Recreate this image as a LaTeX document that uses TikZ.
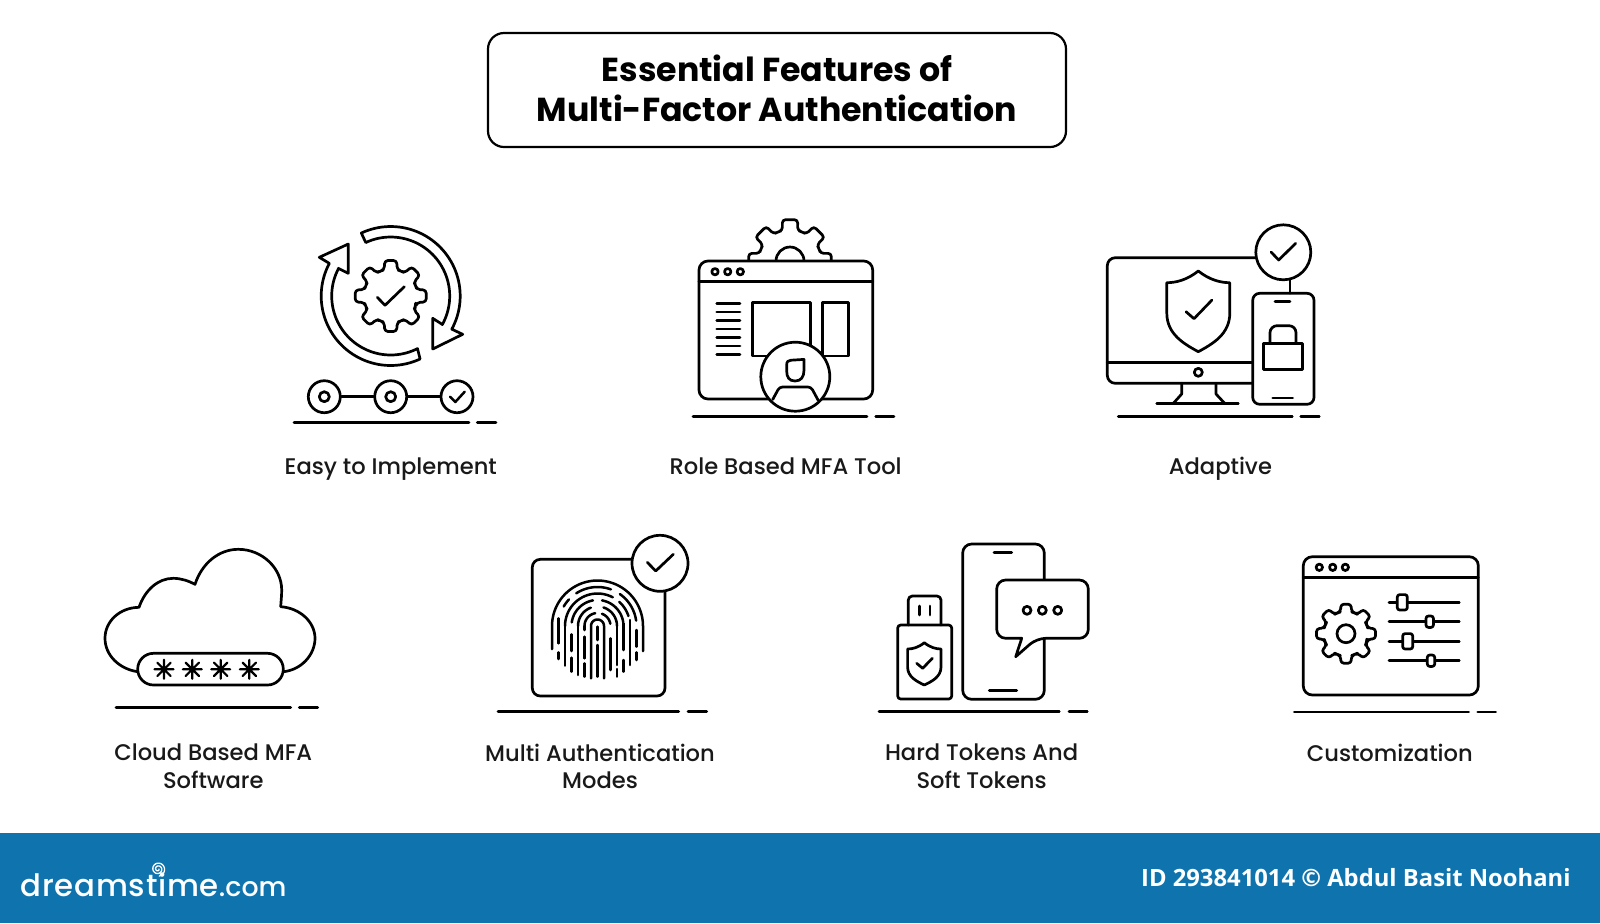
\documentclass[tikz,border=0pt]{standalone}
\usepackage{fontspec}
\setmainfont{Poppins}
\newfontfamily\pmed{Poppins Medium}
\newfontfamily\pbold{Poppins}[BoldFont=Poppins Bold]
\newfontfamily\idfont{Open Sans}
\definecolor{footer}{RGB}{15,116,174}
\tikzset{
  ic/.style={line width=1.35pt,line cap=round,line join=round,black},
  thin ic/.style={line width=1.25pt,line cap=round,line join=round,black},
  icfill/.style={ic,fill=white},
  blab/.style={font=\pmed\fontsize{11.3}{13.8}\selectfont,align=center,inner sep=0pt,text=black!90},
  dotn/.style={circle,draw,line width=1.35pt,fill=white,inner sep=0pt,minimum size=16pt},
}
% gear: cx cy ro ri wo wi
\newcommand\geardraw[6]{%
  \draw[icfill,rounded corners=1.6pt] ({#1+#4*cos(-22.5)},{#2-#4*sin(-22.5)})
  \foreach \i in {0,...,7}{
    -- ({#1+#4*cos(45*\i-#6)},{#2-#4*sin(45*\i-#6)})
    -- ({#1+#3*cos(45*\i-#5)},{#2-#3*sin(45*\i-#5)})
    -- ({#1+#3*cos(45*\i+#5)},{#2-#3*sin(45*\i+#5)})
    -- ({#1+#4*cos(45*\i+#6)},{#2-#4*sin(45*\i+#6)})
    -- ({#1+#4*cos(45*\i+22.5)},{#2-#4*sin(45*\i+22.5)})
  } -- cycle;}
% shield: cx top halfw shouldery sidey bottom
\newcommand\shielddraw[6]{%
  \draw[ic] (#1,#2) .. controls ({#1-#3*.35},{#2+(#4-#2)*.75}) and ({#1-#3*.7},#4) .. ({#1-#3},#4)
   -- ({#1-#3},#5) .. controls ({#1-#3},{#5+(#6-#5)*.55}) and ({#1-#3*.45},{#6-(#6-#5)*.2}) .. (#1,#6)
   .. controls ({#1+#3*.45},{#6-(#6-#5)*.2}) and ({#1+#3},{#5+(#6-#5)*.55}) .. ({#1+#3},#5)
   -- ({#1+#3},#4) .. controls ({#1+#3*.7},#4) and ({#1+#3*.35},{#2+(#4-#2)*.75}) .. (#1,#2) -- cycle;}
% base line + dash
\newcommand\baselinedraw[5]{\draw[ic] (#2,#1) -- (#3,#1); \draw[ic] (#4,#1) -- (#5,#1);}
% fingerprint helpers
\newcommand\fpA[3]{\draw[thin ic] plot[domain=#2:#3,samples=24] ({597.5+6.5*#1*cos(\x)},{626-6.5*#1*sin(\x)});}
\newcommand\fpL[3]{\draw[thin ic] ({597.5-6.5*#1},{575+#2/3}) -- ({597.5-6.5*#1},{575+#3/3});}
\newcommand\fpR[3]{\draw[thin ic] ({597.5+6.5*#1},{575+#2/3}) -- ({597.5+6.5*#1},{575+#3/3});}
\newcommand\stardraw[2]{\draw[line width=1.1pt,line cap=round] \foreach \a in {0,45,90,135}{ ({#1-9.5*cos(\a)},{#2-9.5*sin(\a)}) -- ({#1+9.5*cos(\a)},{#2+9.5*sin(\a)}) };}
\begin{document}
\begin{tikzpicture}[x=.5pt,y=-.5pt]
\useasboundingbox (0,0) rectangle (1600,923);
\fill[white] (0,0) rectangle (1600,923);
% footer
\fill[footer] (0,833) rectangle (1600,923);
\node[anchor=base west,inner sep=0pt,text=white,font=\pmed\fontsize{15.4}{18}\selectfont] (logo) at (20,896) {{\addfontfeature{LetterSpace=2.5}dreamstime}{\fontsize{13.4}{18}\selectfont.com}};
\draw[white,line width=.65pt,line cap=round] plot[domain=0:800,samples=80] ({158+(1+\x/130)*cos(\x)},{869+(1+\x/130)*sin(\x)});
\node[anchor=base east,inner sep=0pt,text=white,font=\idfont\bfseries\fontsize{11.9}{14}\selectfont] (idtext) at (1571,886) {ID 293841014 © Abdul Basit Noohani};
% title
\node[draw,line width=1.1pt,rounded corners=8pt,minimum width=289pt,minimum height=57pt,inner sep=0pt] (titlebox) at (777,90) {};
\node[inner sep=0pt,align=center,font=\pbold\bfseries\fontsize{16.6}{19.9}\selectfont] (title) at (777,88.5) {Essential Features of\\Multi-Factor Authentication};
% labels
\node[blab,anchor=base] (l1) at (390.8,474) {Easy to Implement};
\node[blab,anchor=base] (l2) at (785.7,474) {Role Based MFA Tool};
\node[blab,anchor=base] (l3) at (1220.4,474) {Adaptive};
\node[blab,anchor=north] (l4) at (213.3,743.5) {Cloud Based MFA\\Software};
\node[blab,anchor=north] (l5) at (600,743.5) {Multi Authentication\\Modes};
\node[blab,anchor=north] (l6) at (981.6,743.5) {Hard Tokens And\\Soft Tokens};
\node[blab,anchor=north] (l7) at (1389.8,743.5) {Customization};
% ---- Icon 1
\geardraw{390.7}{296}{36}{27}{9.5}{14}
\draw[ic] (377.3,297.3) -- (385,305.3) -- (404.3,286.7);
\draw[ic] plot[domain=115:-28.5,samples=50] ({390.7+69.5*cos(\x)},{296-69.5*sin(\x)}) -- (462.7,334.3) -- (432.7,349) -- (432.7,318.3) -- (441.7,324) -- plot[domain=-29:115,samples=50] ({390.7+59*cos(\x)},{296-59*sin(\x)}) -- cycle;
\draw[ic] plot[domain=-65:-208,samples=50] ({390.7+69.5*cos(\x)},{296-69.5*sin(\x)}) -- (319.3,257.3) -- (348.3,244) -- (348.3,273.3) -- (338.3,268.3) -- plot[domain=-208:-63,samples=50] ({390.7+59*cos(\x)},{296-59*sin(\x)}) -- cycle;
\node[dotn] (s1) at (324.3,396.7) {};
\node[dotn] (s2) at (390.7,396.7) {};
\node[dotn] (s3) at (457,396.7) {};
\draw[ic] (s1) -- (s2);
\draw[ic] (s2) -- (s3);
\draw[ic] (324.3,396.7) circle[radius=5];
\draw[ic] (390.7,396.7) circle[radius=5];
\draw[thin ic] (450,396.7) -- (455.3,402) -- (464.7,391.7);
\baselinedraw{422.3}{294}{469}{477.3}{496}
% ---- Icon 2
\geardraw{790}{261}{42}{31.5}{10.5}{14}
\draw[ic] (790,261) circle[radius=14];
\draw[icfill,rounded corners=4.5pt] (699,261) rectangle (872.7,399);
\draw[ic] (699,281.7) -- (872.7,281.7);
\foreach \q in {715,727.7,740.3}{\draw[ic] (\q,271.7) circle[radius=3.2];}
\foreach \q in {303.3,312,320.7,329,337.3,346,354.7}{\draw[ic] (716.7,\q) -- (740,\q);}
\draw[ic] (752.3,302.7) rectangle (810.7,356);
\draw[ic] (822.7,302.7) rectangle (848.3,356);
\draw[icfill] (795.3,376.7) circle[radius=34.5];
\draw[ic] (786.7,365) .. controls (786.7,361.5) and (788,360.4) .. (791,360.2) -- (804,359.4) -- (804,370) .. controls (804,377) and (801,381) .. (795,381) .. controls (789,381) and (786.7,377) .. (786.7,371) -- cycle;
\draw[ic,rounded corners=1.5pt] (772.7,399.5) -- (779.5,387) -- (811,387) -- (818.3,400.5);
\baselinedraw{416.7}{693}{867}{875.7}{894}
% ---- Icon 3
\draw[ic,rounded corners=4pt] (1260,257.7) -- (1107.3,257.7) -- (1107.3,383.3) -- (1260,383.3);
\draw[ic] (1107.3,362.3) -- (1260,362.3);
\draw[ic] (1198.3,372.3) circle[radius=4];
\draw[ic] (1181.7,383.3) -- (1181.7,394) -- (1173,403.7);
\draw[ic] (1216,383.3) -- (1216,394) -- (1225,403.7);
\draw[ic] (1156.7,403.7) -- (1238.3,403.7);
\shielddraw{1198.3}{271}{31.5}{282.7}{313}{351.7}
\draw[ic] (1186,311.7) -- (1194,318.7) -- (1212,300);
\draw[icfill,rounded corners=3.5pt] (1252.7,293.3) rectangle (1314,404.3);
\draw[ic] (1275,301.3) -- (1290,301.3);
\draw[ic] (1272.7,398) -- (1292.7,398);
\draw[ic] (1263.3,343.3) rectangle (1302.7,369.3);
\draw[ic,rounded corners=3.5pt] (1270,343.3) -- (1270,325.7) -- (1296,325.7) -- (1296,343.3);
\node[dotn,minimum size=27.5pt] (chk) at (1283.3,252.3) {};
\coordinate (phonetop) at (1290,293.3);
\draw[ic] (1290,280) -- (phonetop);
\draw[ic] (1271,252) -- (1278.7,260) -- (1295.7,243.3);
\baselinedraw{416.7}{1118.3}{1292.3}{1300.7}{1319.3}
% ---- Icon 4
\draw[ic] (137.7,671.7) .. controls (119,669) and (105,655) .. (105,638.3) .. controls (105,621) and (120,607.5) .. (139,607.3) .. controls (145,590) and (158,578.3) .. (173.3,578.3) .. controls (181,578.3) and (189,581) .. (195,584.3) .. controls (202,563) and (219,549.3) .. (238.3,549.3) .. controls (262,549.3) and (281.7,568) .. (281.7,590) .. controls (281.7,596) and (281,601) .. (280.7,606.7) .. controls (300,608) and (315,622) .. (315,638.3) .. controls (315,655) and (301,670) .. (283.3,671.7);
\draw[icfill,rounded corners=7.9pt] (137.7,653.3) rectangle (283.3,685);
\stardraw{164}{669.3}
\stardraw{192.3}{669.3}
\stardraw{220.7}{669.3}
\stardraw{249.3}{669.3}
\baselinedraw{707.7}{116}{290.7}{299.3}{317.7}
% ---- Icon 5
\draw[ic,rounded corners=4pt] (532.3,559.3) rectangle (665,696);
\draw[thin ic] ({597.5-45.5},{575+222/3}) -- plot[domain=180:0,samples=50] ({597.5+45.5*cos(\x)},{626-45.5*sin(\x)}) -- ({597.5+45.5},{575+228/3});
\fpL{6}{130}{205}\fpL{6}{232}{252}\fpA{6}{150}{137}\fpA{6}{123}{70}\fpA{6}{55}{8}\fpR{6}{165}{215}\fpR{6}{232}{255}
\fpA{5}{180}{62}\fpL{5}{153}{272}\fpA{5}{48}{18}\fpR{5}{135}{270}
\fpA{4}{172}{100}\fpA{4}{80}{8}\fpL{4}{178}{228}\fpL{4}{248}{290}\fpR{4}{145}{225}\fpR{4}{255}{290}
\fpA{3}{180}{110}\fpA{3}{72}{0}\fpL{3}{153}{300}\fpR{3}{153}{270}\fpR{3}{282}{305}
\fpA{2}{180}{100}\fpA{2}{70}{10}\fpL{2}{153}{165}\fpL{2}{185}{250}\fpL{2}{265}{305}\fpR{2}{190}{285}
\draw[thin ic] ({597.5-6.5},{575+310/3}) -- plot[domain=180:0,samples=20] ({597.5+6.5*cos(\x)},{626-6.5*sin(\x)}) -- ({597.5+6.5},{575+310/3});
\fpL{0}{155}{195}\fpL{0}{210}{305}
\node[dotn,minimum size=28pt] (chk2) at (660,563.3) {};
\draw[ic] (647.3,562.3) -- (655.7,571) -- (673.3,554.3);
\baselinedraw{711.7}{498}{678.7}{688}{706.7}
% ---- Icon 6
\draw[ic,rounded corners=4.5pt] (962.7,544) rectangle (1044.3,699.3);
\draw[ic] (994,552.7) -- (1011.7,552.7);
\draw[ic] (989.3,690.7) -- (1016.7,690.7);
\draw[icfill] (1021.7,638.3) [rounded corners=4.5pt] -- (996.7,638.3) -- (996.7,580) -- (1088.3,580) -- (1088.3,638.3) -- (1036.7,638.3) [sharp corners] -- (1015.7,656.7) -- cycle;
\foreach \q in {1027,1042.3,1057.7}{\draw[ic] (\q,610.3) circle[radius=4];}
\draw[ic,rounded corners=2pt] (908.3,625) -- (908.3,596) -- (941,596) -- (941,625);
\draw[ic] (919.3,606) -- (919.3,615);
\draw[ic] (930,606) -- (930,615);
\draw[ic,rounded corners=1.5pt] (897.7,625) rectangle (951.7,699);
\shielddraw{924.3}{642.7}{16.7}{649}{667}{685}
\draw[ic] (916.7,663.3) -- (922.7,668.3) -- (932.3,658.3);
\baselinedraw{711.7}{879}{1059.3}{1069}{1087.3}
% ---- Icon 7
\draw[ic,rounded corners=4.5pt] (1303.3,556.7) rectangle (1478.3,695);
\draw[ic] (1303.3,577.3) -- (1478.3,577.3);
\foreach \q in {1319.3,1332.7,1345.3}{\draw[ic] (\q,567.3) circle[radius=3.2];}
\geardraw{1346}{633.7}{30}{22.5}{10}{14}
\draw[ic] (1346,633.7) circle[radius=9];
\foreach \q in {602.3,621.7,641.3,660.7}{\draw[ic] (1389,\q) -- (1459.3,\q);}
\draw[icfill,rounded corners=1.2pt] (1397.3,594.6) rectangle (1407.3,610);
\draw[icfill,rounded corners=1.2pt] (1426,616) rectangle (1433.4,627.4);
\draw[icfill,rounded corners=1.2pt] (1402.7,633.6) rectangle (1412.7,649);
\draw[icfill,rounded corners=1.2pt] (1427.3,655) rectangle (1434.7,666.4);
\baselinedraw{712}{1294.3}{1468.7}{1477.7}{1495.7}
\end{tikzpicture}
\end{document}
